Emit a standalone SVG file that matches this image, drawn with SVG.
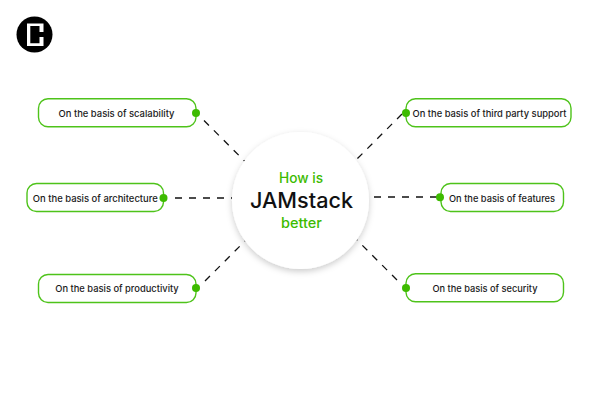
<svg xmlns="http://www.w3.org/2000/svg" width="602" height="401" viewBox="0 0 602 401">
<defs>
<filter id="sh" x="-20%" y="-20%" width="140%" height="140%"><feDropShadow dx="0" dy="2.5" stdDeviation="3" flood-color="#000" flood-opacity="0.2"/></filter>
</defs>
<style>
.box{fill:#fff;stroke:#4ec31a;stroke-width:1.4}
.dot{fill:#3dbb00}
.lbl{font-family:Inter,"Open Sans","Liberation Sans",sans-serif;font-size:9.4px;font-weight:500;fill:#1a1a1a;text-anchor:middle}
.con{stroke:#111;stroke-width:1.3;fill:none;stroke-dasharray:7 7}
.hd{font-family:Inter,"Open Sans","Liberation Sans",sans-serif;text-anchor:middle}
</style>
<rect width="602" height="401" fill="#fff"/>
<g id="logo">
<circle cx="34.5" cy="34.5" r="18" fill="#000"/>
<path d="M27 23.5H43.5V32H39.5V26H30.3V43.3H39.5V37H43.5V46H27Z" fill="#fff"/>
</g>
<g id="connectors">
<line class="con" x1="204" y1="120.5" x2="244.5" y2="161"/>
<line class="con" x1="175" y1="198" x2="232" y2="198"/>
<line class="con" x1="205" y1="281" x2="245" y2="241"/>
<line class="con" x1="402" y1="114" x2="356.5" y2="159.5"/>
<line class="con" x1="437" y1="197" x2="369" y2="197"/>
<line class="con" x1="397" y1="280" x2="357" y2="240"/>
</g>
<g id="center">
<circle cx="300.5" cy="200.5" r="68.5" fill="#fff" filter="url(#sh)"/>
<text class="hd" x="301" y="183.3" font-size="14" font-weight="500" fill="#3dbb00" textLength="44" lengthAdjust="spacingAndGlyphs">How is</text>
<text class="hd" x="301.5" y="208" font-size="21" font-weight="500" fill="#111" textLength="103" lengthAdjust="spacingAndGlyphs">JAMstack</text>
<text class="hd" x="301.5" y="228" font-size="14" font-weight="500" fill="#3dbb00" textLength="41" lengthAdjust="spacingAndGlyphs">better</text>
</g>
<g id="scalability">
<rect class="box" x="38.5" y="98.75" width="157.5" height="28" rx="9.5"/>
<circle class="dot" cx="196" cy="113" r="4"/>
<text class="lbl" x="116.5" y="116.5" textLength="116" lengthAdjust="spacingAndGlyphs">On the basis of scalability</text>
</g>
<g id="architecture">
<rect class="box" x="27" y="183.5" width="136.5" height="28" rx="9.5"/>
<circle class="dot" cx="163.5" cy="198" r="4"/>
<text class="lbl" x="95.3" y="201.5" textLength="125" lengthAdjust="spacingAndGlyphs">On the basis of architecture</text>
</g>
<g id="productivity">
<rect class="box" x="38.5" y="274.5" width="157.5" height="28" rx="9.5"/>
<circle class="dot" cx="196" cy="288" r="4"/>
<text class="lbl" x="117" y="292" textLength="123.5" lengthAdjust="spacingAndGlyphs">On the basis of productivity</text>
</g>
<g id="thirdparty">
<rect class="box" x="406" y="98.75" width="165" height="28" rx="9.5"/>
<circle class="dot" cx="406" cy="113" r="4"/>
<text class="lbl" x="489.5" y="116.5" textLength="154" lengthAdjust="spacingAndGlyphs">On the basis of third party support</text>
</g>
<g id="features">
<rect class="box" x="441" y="183.5" width="122.5" height="28" rx="9.5"/>
<circle class="dot" cx="440" cy="197.3" r="4"/>
<text class="lbl" x="502" y="201.5" textLength="106" lengthAdjust="spacingAndGlyphs">On the basis of features</text>
</g>
<g id="security">
<rect class="box" x="406" y="273.75" width="157.5" height="28" rx="9.5"/>
<circle class="dot" cx="406" cy="288" r="4"/>
<text class="lbl" x="485" y="291.5" textLength="105" lengthAdjust="spacingAndGlyphs">On the basis of security</text>
</g>
</svg>
